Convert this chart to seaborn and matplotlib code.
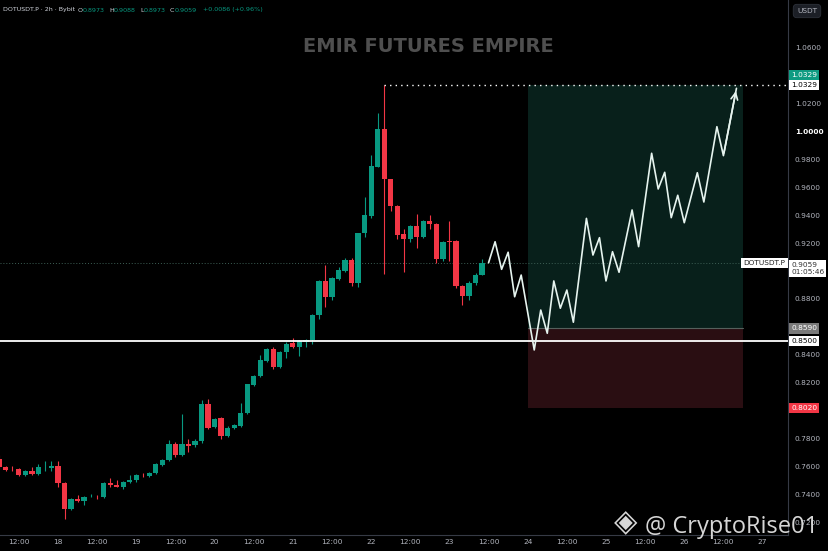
import numpy as np
import matplotlib
matplotlib.use("Agg")
import matplotlib.pyplot as plt
import matplotlib.transforms as mtransforms
import seaborn as sns

# 2h candles, hours counted from the 17th 00:00 (first candle = 17th 06:00)
candle_hours = np.arange(6, 156, 2)
candle_open = [0.7657, 0.7602, 0.7586, 0.7584, 0.7543, 0.7571, 0.7552, 0.7598, 0.7595, 0.7610,
               0.7486, 0.7300, 0.7371, 0.7357, 0.7390, 0.7392, 0.7386, 0.7484, 0.7474, 0.7459,
               0.7493, 0.7507, 0.7545, 0.7536, 0.7557, 0.7614, 0.7650, 0.7762, 0.7686, 0.7764,
               0.7755, 0.7784, 0.8050, 0.7888, 0.7948, 0.7821, 0.7876, 0.7893, 0.7984, 0.8186,
               0.8250, 0.8359, 0.8441, 0.8316, 0.8424, 0.8484, 0.8459, 0.8493, 0.8507, 0.8686,
               0.8929, 0.8812, 0.8943, 0.9002, 0.9079, 0.8912, 0.9269, 0.9393, 0.9745, 1.0012,
               0.9655, 0.9464, 0.9264, 0.9226, 0.9321, 0.9241, 0.9359, 0.9338, 0.9086, 0.9214,
               0.9214, 0.8893, 0.8824, 0.8912, 0.8973]
candle_high = [0.7686, 0.7610, 0.7605, 0.7590, 0.7575, 0.7600, 0.7620, 0.7643, 0.7640, 0.7640,
               0.7490, 0.7380, 0.7400, 0.7395, 0.7410, 0.7400, 0.7490, 0.7520, 0.7510, 0.7500,
               0.7540, 0.7550, 0.7560, 0.7565, 0.7625, 0.7655, 0.7790, 0.7780, 0.7979, 0.7800,
               0.7800, 0.8080, 0.8085, 0.7950, 0.7955, 0.7890, 0.7910, 0.8059, 0.8195, 0.8260,
               0.8400, 0.8450, 0.8460, 0.8430, 0.8490, 0.8520, 0.8505, 0.8515, 0.8690, 0.8935,
               0.9043, 0.8955, 0.9030, 0.9090, 0.9090, 0.9275, 0.9531, 0.9829, 1.0131, 1.0329,
               0.9660, 0.9470, 0.9300, 0.9330, 0.9407, 0.9365, 0.9400, 0.9345, 0.9215, 0.9359,
               0.9225, 0.8900, 0.8930, 0.8985, 0.9088]
candle_low = [0.7586, 0.7570, 0.7570, 0.7535, 0.7535, 0.7545, 0.7545, 0.7570, 0.7570, 0.7455,
              0.7231, 0.7290, 0.7350, 0.7330, 0.7385, 0.7370, 0.7380, 0.7460, 0.7455, 0.7440,
              0.7485, 0.7490, 0.7525, 0.7530, 0.7550, 0.7605, 0.7640, 0.7670, 0.7680, 0.7707,
              0.7740, 0.7770, 0.7870, 0.7880, 0.7800, 0.7815, 0.7870, 0.7885, 0.7980, 0.8180,
              0.8245, 0.8350, 0.8300, 0.8310, 0.8379, 0.8450, 0.8390, 0.8460, 0.8479, 0.8660,
              0.8743, 0.8790, 0.8935, 0.8990, 0.8890, 0.8888, 0.9245, 0.9380, 0.9740, 0.8979,
              0.9430, 0.9230, 0.8995, 0.9210, 0.9164, 0.9235, 0.9300, 0.9060, 0.9070, 0.9070,
              0.8880, 0.8757, 0.8790, 0.8900, 0.8973]
candle_close = [0.7600, 0.7579, 0.7583, 0.7541, 0.7571, 0.7552, 0.7598, 0.7600, 0.7607, 0.7486,
                0.7300, 0.7371, 0.7357, 0.7388, 0.7392, 0.7390, 0.7486, 0.7469, 0.7459, 0.7493,
                0.7509, 0.7541, 0.7540, 0.7559, 0.7619, 0.7650, 0.7762, 0.7686, 0.7764, 0.7752,
                0.7788, 0.8050, 0.7881, 0.7943, 0.7821, 0.7881, 0.7900, 0.7984, 0.8191, 0.8252,
                0.8364, 0.8441, 0.8316, 0.8424, 0.8479, 0.8459, 0.8498, 0.8507, 0.8686, 0.8929,
                0.8812, 0.8948, 0.9007, 0.9079, 0.8912, 0.9269, 0.9400, 0.9750, 1.0012, 0.9655,
                0.9464, 0.9257, 0.9226, 0.9321, 0.9241, 0.9359, 0.9338, 0.9086, 0.9205, 0.9205,
                0.8893, 0.8824, 0.8912, 0.8971, 0.9059]

# hand drawn projection path
proj_hours = [156, 158, 160, 162, 164, 166, 170, 172, 174, 176, 178, 180, 182, 186, 188, 190,
              192, 194, 196, 200, 202, 206, 208, 210, 212, 214, 216, 220, 222, 226, 228, 232]
proj_price = [0.9059, 0.9209, 0.9012, 0.9134, 0.8816, 0.8971, 0.8436, 0.8721, 0.8555, 0.8929,
              0.8734, 0.8864, 0.8634, 0.9376, 0.9114, 0.9238, 0.8929, 0.9138, 0.8991, 0.9436,
              0.9174, 0.9841, 0.9586, 0.9705, 0.9381, 0.9541, 0.9345, 0.9702, 0.9493, 1.0031,
              0.9824, 1.0305]

# long position tool
box_hours = [168, 234]
target_price = 1.0329
entry_price = 0.8590
stop_price = 0.8020
support_price = 0.8500
last_price = 0.9059
peak_hour = 124

ytick_vals = [1.06, 1.02, 1.00, 0.98, 0.96, 0.94, 0.92, 0.88, 0.84, 0.82, 0.78, 0.76, 0.74, 0.72]
xtick_hours = list(range(12, 241, 12))
xtick_labels = ["12:00", "18", "12:00", "19", "12:00", "20", "12:00", "21", "12:00", "22",
                "12:00", "23", "12:00", "24", "12:00", "25", "12:00", "26", "12:00", "27"]

GREEN = "#089981"
RED = "#f23645"
TXT = "#b2b5be"

sns.set_style("dark", {"axes.facecolor": "black", "figure.facecolor": "black"})
plt.rcParams['font.family'] = ['DejaVu Sans']

W, H = 829, 551
fig = plt.figure(figsize=(W / 100, H / 100), dpi=100)
fig.patch.set_facecolor("black")
ax = fig.add_axes([0, 16 / H, 788 / W, 535 / H])
ax.set_facecolor("black")

# position boxes
ax.fill_between(box_hours, entry_price, target_price, color="#08201b", lw=0, zorder=0)
ax.fill_between(box_hours, stop_price, entry_price, color="#2a0e12", lw=0, zorder=0)
ax.plot(box_hours, [entry_price, entry_price], color="#55605c", lw=0.8, zorder=1)

# candles
o = np.array(candle_open)
c = np.array(candle_close)
cols = [GREEN if cc >= oo else RED for oo, cc in zip(o, c)]
ax.vlines(candle_hours, candle_low, candle_high, colors=cols, lw=0.8, zorder=3)
ax.bar(candle_hours, np.maximum(np.abs(c - o), 0.0004), bottom=np.minimum(o, c),
       width=1.6, color=cols, lw=0, zorder=4)

# lines
ax.axhline(last_price, color="#3d5f55", lw=0.7, ls=(0, (1, 2)), zorder=2)
ax.axhline(support_price, color="white", lw=1.3, zorder=5)
ax.plot([peak_hour, 247.8], [target_price, target_price], color="white", lw=1.0,
        ls=(0, (1, 3)), zorder=5)

sns.lineplot(x=proj_hours, y=proj_price, sort=False, color="#e6f4ef", lw=1.2, ax=ax, zorder=6)
ax.annotate("", xy=(proj_hours[-1], proj_price[-1]), xytext=(proj_hours[-2], proj_price[-2]),
            arrowprops=dict(arrowstyle="->", color="#e6f4ef", lw=1.2, mutation_scale=12), zorder=6)

ax.set_xlim(6.22, 247.8)
ax.set_ylim(0.7114, 1.0936)
ax.set_xlabel("")
ax.set_ylabel("")

# axes / ticks
for s in ["left", "top"]:
    ax.spines[s].set_visible(False)
for s in ["right", "bottom"]:
    ax.spines[s].set_color("#363a45")
    ax.spines[s].set_linewidth(0.8)
ax.yaxis.tick_right()
ax.set_yticks(ytick_vals)
ax.set_yticklabels([f"{v:.4f}" for v in ytick_vals])
ax.set_xticks(xtick_hours)
ax.set_xticklabels(xtick_labels)
ax.tick_params(axis="y", length=0, pad=5, labelsize=5.3, colors=TXT)
ax.tick_params(axis="x", length=0, pad=3, labelsize=5.3, colors=TXT)
for lab in ax.get_yticklabels():
    if lab.get_text() == "1.0000":
        lab.set_color("white")
        lab.set_fontweight("bold")
ax.grid(False)

# price badges on the right scale
tr = mtransforms.blended_transform_factory(ax.transAxes, ax.transData)
def badge(y, txt, fc, tc, dy=0.0):
    ax.text(1.004, y + dy, txt, transform=tr, ha="left", va="center", fontsize=5.3,
            color=tc, clip_on=False, zorder=10, linespacing=1.1,
            bbox=dict(boxstyle="square,pad=0.3", fc=fc, ec="none"))

badge(target_price, "1.0329", "#0f9b82", "white", dy=0.0068)
badge(target_price, "1.0329", "white", "black")
badge(last_price, "0.9059\n01:05:46", "white", "#333333", dy=-0.0040)
badge(entry_price, "0.8590", "#7a7a7a", "white")
badge(support_price, "0.8500", "white", "black")
badge(stop_price, "0.8020", RED, "white")
ax.text(0.997, last_price, "DOTUSDT.P", transform=tr, ha="right", va="center", fontsize=5.3,
        color="#222222", zorder=10, bbox=dict(boxstyle="square,pad=0.3", fc="white", ec="none"))

# USDT button
fig.text(807 / W, 1 - 11 / H, "USDT", ha="center", va="center", fontsize=5.3, color=TXT,
         bbox=dict(boxstyle="round,pad=0.5", fc="#1c1f26", ec="#2e323b", lw=0.6))

# header line
hy = 1 - 10 / H
fig.text(3 / W, hy, "DOTUSDT.P · 2h · Bybit", fontsize=4.5, color="#d1d4dc", va="center")
segs = [(78, "O", "#d1d4dc"), (83, "0.8973", GREEN), (109, "H", "#d1d4dc"), (114, "0.9088", GREEN),
        (140, "L", "#d1d4dc"), (144, "0.8973", GREEN), (170, "C", "#d1d4dc"), (175, "0.9059", GREEN),
        (203, "+0.0086 (+0.96%)", GREEN)]
for x, t, col in segs:
    fig.text(x / W, hy, t, fontsize=4.6, color=col, va="center")

# title watermark
fig.text(428 / W, 1 - 46 / H, "EMIR FUTURES EMPIRE", ha="center", va="center",
         fontsize=14, fontweight="bold", color="#4f4f4f")

# author watermark
fig.text(626 / W, 1 - 523 / H, "◈", ha="center", va="center", fontsize=22, color="#d6d6d6")
fig.text(645 / W, 1 - 533 / H, "@ CryptoRise01", ha="left", va="baseline", fontsize=17,
         color="#d6d6d6", family=["Open Sans", "DejaVu Sans"])

fig.savefig("out.png", dpi=100, facecolor="black")
